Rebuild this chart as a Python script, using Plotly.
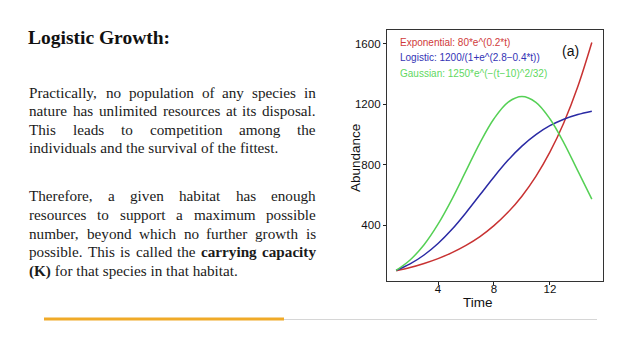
import plotly.graph_objects as go

# ---------------- data ----------------
time = [1, 2, 3, 4, 5, 6, 7, 8, 9, 10, 11, 12, 13, 14, 15]
exponential = [98, 119, 146, 178, 218, 266, 324, 396, 484, 591, 722, 882, 1077, 1316, 1607]
logistic = [100, 143, 202, 278, 372, 482, 600, 718, 828, 922, 998, 1057, 1100, 1131, 1153]
gaussian = [100, 169, 270, 406, 572, 758, 944, 1103, 1212, 1250, 1212, 1103, 944, 758, 572]

series_names = ["Exponential: 80*e^(0.2*t)",
                "Logistic: 1200/(1+e^(2.8\u22120.4*t))",
                "Gaussian: 1250*e^(\u2212(t\u221210)^2/32)"]
line_colors = ["#c83232", "#2a2aa4", "#55d055"]
label_colors = ["#d03a3a", "#3333b5", "#5fd85f"]

x_ticks = [4, 8, 12]
y_ticks = [400, 800, 1200, 1600]

title_text = "Logistic Growth:"
paragraph_lines = [
    ["Practically,", "no", "population", "of", "any", "species", "in"],
    ["nature", "has", "unlimited", "resources", "at", "its", "disposal."],
    ["This", "leads", "to", "competition", "among", "the"],
    ["individuals and the survival of the fittest."],
    ["Therefore,", "a", "given", "habitat", "has", "enough"],
    ["resources", "to", "support", "a", "maximum", "possible"],
    ["number,", "beyond", "which", "no", "further", "growth", "is"],
    ["possible.", "This", "is", "called", "the", "<b>carrying</b>", "<b>capacity</b>"],
    ["<b>(K)</b> for that species in that habitat."],
]

W, H = 638, 359

def px(x):
    return x / W

def py(y):
    return 1 - y / H

# Times / Liberation Serif advance widths (1/1000 em) for layout of justified text
REG = {' ': 250, 'a': 444, 'b': 500, 'c': 444, 'd': 500, 'e': 444, 'f': 333, 'g': 500, 'h': 500,
       'i': 278, 'j': 278, 'k': 500, 'l': 278, 'm': 778, 'n': 500, 'o': 500, 'p': 500, 'q': 500,
       'r': 333, 's': 389, 't': 278, 'u': 500, 'v': 500, 'w': 722, 'x': 500, 'y': 500, 'z': 444,
       ',': 250, '.': 250, '(': 333, ')': 333, 'T': 611, 'P': 556, 'K': 722}
BOLD = {'a': 500, 'c': 444, 'p': 556, 'i': 278, 't': 333, 'y': 500, 'r': 444, 'n': 556, 'g': 500,
        '(': 333, ')': 333, 'K': 778}

def word_width(w, size):
    bold = w.startswith("<b>")
    s = w.replace("<b>", "").replace("</b>", "")
    tbl = BOLD if bold else REG
    return sum(tbl.get(ch, REG.get(ch, 500)) for ch in s) * size / 1000.0

fig = go.Figure()
for vals, name, col in zip([exponential, logistic, gaussian], series_names, line_colors):
    fig.add_trace(go.Scatter(x=time, y=vals, mode="lines", name=name,
                             line=dict(color=col, width=1.5, shape="spline"),
                             showlegend=False, hoverinfo="skip"))

axis_common = dict(showline=True, mirror=True, linecolor="#333", linewidth=1.3,
                   ticks="outside", ticklen=3, tickcolor="#222", showgrid=False,
                   zeroline=False, tickfont=dict(family="Liberation Sans, Arial", size=11.5, color="#111"))

fig.update_layout(
    width=W, height=H, autosize=False,
    margin=dict(l=0, r=0, t=0, b=0),
    paper_bgcolor="white", plot_bgcolor="white",
    xaxis=dict(domain=[px(387), px(603)], range=[0.35, 15.8], tickvals=x_ticks,
               ticklabelstandoff=-6, **axis_common),
    yaxis=dict(domain=[py(281), py(30)], range=[30, 1690], tickvals=y_ticks,
               **axis_common),
)

ann = []
# axis titles
ann.append(dict(text="Time", x=px(495), y=py(302.5), xref="paper", yref="paper", showarrow=False,
                yanchor="middle", font=dict(family="Liberation Sans, Arial", size=13.5, color="#111")))
ann.append(dict(text="Abundance", x=px(355), y=py(158), xref="paper", yref="paper", showarrow=False,
                textangle=-90, font=dict(family="Liberation Sans, Arial", size=13.5, color="#111")))
# in-plot formula labels
for i, (name, col) in enumerate(zip(series_names, label_colors)):
    ann.append(dict(text=name, x=px(398), y=py(42 + 15.5 * i), xref="paper", yref="paper",
                    xanchor="left", yanchor="middle", showarrow=False,
                    font=dict(family="Liberation Sans, Arial", size=10, color=col)))
ann.append(dict(text="(a)", x=px(581), y=py(41), xref="paper", yref="paper", showarrow=False,
                font=dict(family="Liberation Sans, Arial", size=14, color="#111")))

# slide text
serif = "Liberation Serif, Times New Roman, serif"
tsize = 15.2
ann.append(dict(text="<b>" + title_text + "</b>", x=px(26), y=py(38), xref="paper", yref="paper",
                xanchor="left", yanchor="middle", showarrow=False,
                font=dict(family=serif, size=19.5, color="#111")))

line_y = [92, 110.5, 129, 147.5, 195, 214, 233, 252, 271]
left, right = 27, 314
for y, words in zip(line_y, paragraph_lines):
    if len(words) == 1:
        ann.append(dict(text=words[0], x=px(left), y=py(y), xref="paper", yref="paper",
                        xanchor="left", yanchor="middle", showarrow=False,
                        font=dict(family=serif, size=tsize, color="#1a1a1a")))
        continue
    widths = [word_width(w, tsize) for w in words]
    gap = (right - left - sum(widths)) / (len(words) - 1)
    x = left
    for w, wd in zip(words, widths):
        ann.append(dict(text=w, x=px(x), y=py(y), xref="paper", yref="paper",
                        xanchor="left", yanchor="middle", showarrow=False,
                        font=dict(family=serif, size=tsize, color="#1a1a1a")))
        x += wd + gap

fig.update_layout(annotations=ann)

# footer rule
fig.add_shape(type="line", xref="paper", yref="paper", x0=px(284), x1=px(597), y0=py(319.5), y1=py(319.5),
              line=dict(color="#d6d6d6", width=1))
fig.add_shape(type="line", xref="paper", yref="paper", x0=px(44), x1=px(284), y0=py(319), y1=py(319),
              line=dict(color="#f0aa28", width=3))

fig.write_html("out.html", config={"displayModeBar": False},
               post_script="document.body.style.margin='0';document.body.style.overflow='hidden';")
